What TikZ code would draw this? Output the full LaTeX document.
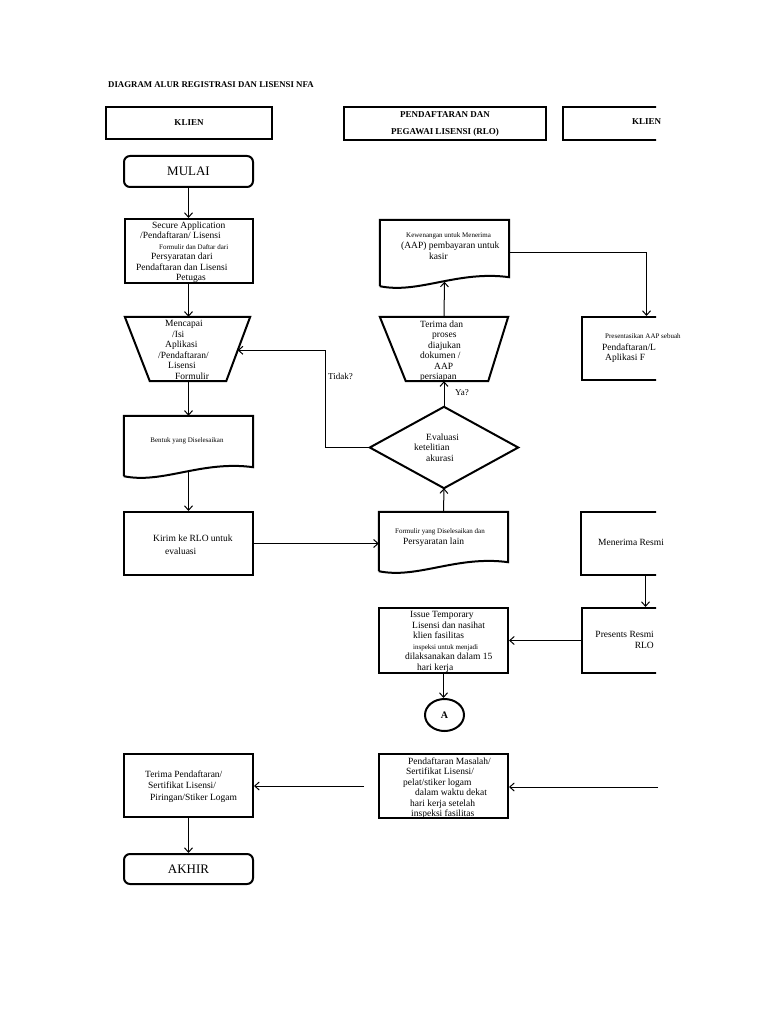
\documentclass[tikz,border=0pt]{standalone}
\usepackage{fontspec}
\setmainfont{Liberation Serif}
\usetikzlibrary{arrows.meta,calc,shapes.geometric}
\newcommand\sm[1]{{\fontsize{7}{10.5}\selectfont #1}}
\newcommand\docpath[1]{\draw[boxline] ($(#1.south west)+(0,9)$) -- (#1.north west) -- (#1.north east) -- (#1.south east) .. controls ($(#1.south east)!0.4!(#1.south west)+(0,-7)$) and ($(#1.south east)!0.7!(#1.south west)+(0,17)$) .. ($(#1.south west)+(0,9)$);}
\begin{document}
\begin{tikzpicture}[x=1pt,y=-1pt,
  boxline/.style={line width=2pt},
  hdr/.style={draw, line width=1.2pt, inner sep=0},
  blank/.style={inner sep=0},
  box/.style={draw, boxline, inner sep=0},
  conn/.style={line width=1pt},
  arr/.style={conn, -{Straight Barb[length=4.5pt,width=8pt]}},
  txt/.style={inner sep=0, anchor=north west, align=left, font=\fontsize{9.5}{10.5}\selectfont},
  hfont/.style={font=\bfseries\fontsize{9}{11}\selectfont},
  lbl/.style={anchor=west, inner sep=0, font=\fontsize{9}{10}\selectfont},
  term/.style={draw, boxline, rounded corners=6pt, inner sep=0, minimum width=129pt, font=\fontsize{13}{15}\selectfont}
]
\fill[white] (0,0) rectangle (768,1024);
\useasboundingbox (0,0) rectangle (768,1024);

% title and headers
\node[anchor=west, inner sep=0, font=\bfseries\fontsize{8.8}{10}\selectfont] (title) at (108,85) {DIAGRAM ALUR REGISTRASI DAN LISENSI NFA};
\node[hdr, hfont, minimum width=166pt, minimum height=32pt] (h1) at (189,123) {KLIEN};
\node[hdr, hfont, minimum width=202pt, minimum height=33pt, align=center] (h2) at (445,123.5) {PENDAFTARAN DAN\\[6pt]PEGAWAI LISENSI (RLO)};

% right column (clipped)
\begin{scope}
\clip (0,0) rectangle (656,1024);
\node[hdr, minimum width=166pt, minimum height=33pt] (h3) at (646,123.5) {};
\node[box, minimum width=129pt, minimum height=63pt] (pres) at (646.5,348.5) {};
\node[box, minimum width=129pt, minimum height=63pt] (mener) at (645.5,543.5) {};
\node[box, minimum width=129pt, minimum height=65pt] (prese) at (646.5,640.5) {};
\end{scope}
\node[anchor=west, inner sep=0, hfont] (h3t) at (632,122) {KLIEN};
\node[txt] (prest) at (602,333.5) {\hspace*{3pt}\sm{Presentasikan AAP sebuah}\\[1pt]Pendaftaran/L\\\hspace*{3pt}Aplikasi F};
\node[anchor=west, inner sep=0, font=\fontsize{9.5}{10.5}\selectfont] (menert) at (598,542) {Menerima Resmi};
\node[inner sep=0, anchor=north east, align=right, font=\fontsize{9.5}{10.5}\selectfont] (preset) at (654,631.5) {Presents Resmi\\RLO};

% left column
\node[term, minimum height=31pt] (mulai) at (188.5,171.5) {MULAI};
\node[box, minimum width=128pt, minimum height=64pt] (secure) at (189,251) {};
\node[txt] (securet) at (136,221.5) {\hspace*{16pt}Secure Application\\\hspace*{4pt}/Pendaftaran/ Lisensi\\\hspace*{23pt}\sm{Formulir dan Daftar dari}\\\hspace*{15pt}Persyaratan dari\\Pendaftaran dan Lisensi\\\hspace*{40pt}Petugas};

\node[blank, minimum width=125pt, minimum height=64pt] (t1) at (187.5,349) {};
\draw[boxline] (t1.north west) -- (t1.north east) -- ($(t1.south east)+(-24,0)$) -- ($(t1.south west)+(25,0)$) -- cycle;
\coordinate (t1in) at ($(t1.north east)!0.52!(t1.south east)+(-12.5,0)$);
\node[txt] (t1t) at (158,320.5) {\hspace*{7pt}Mencapai\\\hspace*{14pt}/Isi\\\hspace*{7pt}Aplikasi\\/Pendaftaran/\\\hspace*{10pt}Lisensi\\\hspace*{17pt}Formulir};

\node[blank, minimum width=129pt, minimum height=51pt] (bentuk) at (188.5,441.5) {};
\docpath{bentuk}
\node[inner sep=0, font=\fontsize{7}{9}\selectfont] (bentukt) at (187,441) {Bentuk yang Diselesaikan};

\node[box, minimum width=129pt, minimum height=63pt] (kirim) at (188.5,543.5) {};
\node[txt] (kirimt) at (153,534.5) {Kirim ke RLO untuk\\[2.5pt]\hspace*{12pt}evaluasi};

\node[box, minimum width=129pt, minimum height=63pt] (terima) at (188.5,785.5) {};
\node[txt] (terimat) at (145,770.5) {Terima Pendaftaran/\\[1pt]\hspace*{3pt}Sertifikat Lisensi/\\[1pt]\hspace*{5pt}Piringan/Stiker Logam};
\node[term, minimum height=30pt] (akhir) at (188.5,869) {AKHIR};

% middle column
\node[blank, minimum width=129pt, minimum height=57pt] (aap) at (444.5,248.5) {};
\docpath{aap}
\node[txt] (aapt) at (401,232.5) {\hspace*{5pt}\sm{Kewenangan untuk Menerima}\\[0.5pt](AAP) pembayaran untuk\\\hspace*{28pt}kasir};

\node[blank, minimum width=128pt, minimum height=64pt] (t2) at (444,349) {};
\draw[boxline] (t2.north west) -- (t2.north east) -- ($(t2.south east)+(-20,0)$) -- ($(t2.south west)+(26,0)$) -- cycle;
\node[txt] (t2t) at (420,320.5) {Terima dan\\\hspace*{12pt}proses\\\hspace*{8pt}diajukan\\dokumen /\\\hspace*{14pt}AAP\\persiapan};

\node[blank, minimum width=148pt, minimum height=81pt] (dia) at (444,447.5) {};
\draw[boxline] (dia.west) -- (dia.north) -- (dia.east) -- (dia.south) -- cycle;
\node[txt] (diat) at (414,433.5) {\hspace*{12pt}Evaluasi\\ketelitian\\\hspace*{12pt}akurasi};

\node[blank, minimum width=129pt, minimum height=50pt] (form) at (443.5,537) {};
\docpath{form}
\node[txt] (formt) at (395,528.5) {\sm{Formulir yang Diselesaikan dan}\\\hspace*{8pt}Persyaratan lain};

\node[box, minimum width=129pt, minimum height=65pt] (issue) at (443.5,640.5) {};
\node[txt] (issuet) at (405,611.5) {\hspace*{5pt}Issue Temporary\\\hspace*{7pt}Lisensi dan nasihat\\\hspace*{8pt}klien fasilitas\\\hspace*{8pt}\sm{inspeksi untuk menjadi}\\dilaksanakan dalam 15\\\hspace*{12pt}hari kerja};

\node[draw, boxline, ellipse, inner sep=0, minimum width=39pt, minimum height=32pt, font=\bfseries\fontsize{10}{12}\selectfont] (acirc) at (444.5,715) {A};

\node[box, minimum width=129pt, minimum height=64pt] (masalah) at (443.5,786) {};
\node[txt] (masalaht) at (403,757.5) {\hspace*{5pt}Pendaftaran Masalah/\\\hspace*{3pt}Sertifikat Lisensi/\\pelat/stiker logam\\\hspace*{12pt}dalam waktu dekat\\\hspace*{7pt}hari kerja setelah\\\hspace*{8pt}inspeksi fasilitas};

% labels
\node[lbl] (tidak) at (328,376) {Tidak?};
\node[lbl] (ya) at (455,393) {Ya?};

% connectors
\draw[arr] (mulai.south) -- (mulai.south |- secure.north);
\draw[arr] (secure.south -| mulai.south) -- (mulai.south |- t1.north);
\draw[arr] (t1.south -| mulai.south) -- (mulai.south |- bentuk.north);
\draw[arr] ($(bentuk.south)+(0,4)$) -- (kirim.north);
\draw[arr] (kirim.east) -- (kirim.east -| form.west);
\draw[arr] (form.north) -- (dia.south);
\draw[arr] (dia.north) -- (t2.south);
\draw[arr] (t2.north) -- ($(aap.south)+(0,4.5)$);
\draw[arr] (dia.west) -| ($(t1in)+(88,0)$) -- (t1in);
\draw[arr] ($(aap.east)+(0,3.5)$) -| (pres.north);
\draw[arr] (mener.south) -- (mener.south |- prese.north);
\draw[arr] (prese.west) -- (issue.east);
\draw[arr] (issue.south) -- (issue.south |- acirc.north);
\coordinate (rin) at (658,787);
\draw[arr] (rin) -- (rin -| masalah.east);
\coordinate (mout) at (364,786);
\draw[arr] (mout) -- (mout -| terima.east);
\draw[arr] (terima.south) -- (akhir.north);
\end{tikzpicture}
\end{document}
